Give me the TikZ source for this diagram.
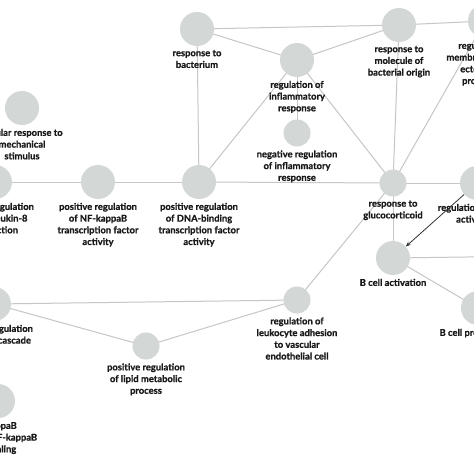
\documentclass[tikz,border=0pt]{standalone}
\usepackage{fontspec}
\setmainfont{Lato}[BoldFeatures={FakeBold=0.8}]
\usetikzlibrary{arrows.meta,backgrounds}
\definecolor{nodegray}{HTML}{D3D7D6}
\definecolor{edgegray}{HTML}{C6C6C6}
\tikzset{
  go/.style={circle, fill=nodegray, draw=none, minimum size=34pt, inner sep=0pt,
    label={[golabel]below:#1}},
  gos/.style={circle, fill=nodegray, draw=none, minimum size=27pt, inner sep=0pt,
    label={[golabel]below:#1}},
  golabel/.style={align=center, font=\bfseries\fontsize{9.4}{11.7}\selectfont, text=black!90,
    inner sep=0pt, yshift=-3.5pt},
  edge/.style={draw=edgegray, line width=1pt},
  arr/.style={draw=black!80, line width=0.8pt, -{Stealth[length=5pt,width=4pt]}}
}
\begin{document}
\begin{tikzpicture}[x=1pt,y=-1pt]
\useasboundingbox (0,0) rectangle (474,474);
% nodes
\node[go={response to\\bacterium}] (bact) at (197,29) {};
\node[go={response to\\molecule of\\bacterial origin}] (mol) at (399,25) {};
\node[go={regulation of\\membrane protein\\ectodomain\\proteolysis}] (memb) at (485,21) {};
\node[go={regulation of\\inflammatory\\response}] (infl) at (297,60) {};
\node[gos={negative regulation\\of inflammatory\\response}] (neg) at (297,133) {};
\node[go={cellular response to\\mechanical\\stimulus}] (mech) at (22,108) {};
\node[go={positive regulation\\of interleukin-8\\production}] (il8) at (-5,182) {};
\node[go={positive regulation\\of NF-kappaB\\transcription factor\\activity}] (nfkb) at (98,182) {};
\node[go={positive regulation\\of DNA-binding\\transcription factor\\activity}] (dna) at (199,182) {};
\node[gos={response to\\glucocorticoid}] (gluc) at (393,183) {};
\node[go={regulation of B cell\\activation}] (regb) at (477,183) {};
\node[go={B cell activation}] (bcell) at (393,258) {};
\node[go={B cell proliferation}] (bprol) at (478,308) {};
\node[gos={regulation of\\leukocyte adhesion\\to vascular\\endothelial cell}] (leuk) at (297,300) {};
\node[gos={positive regulation\\of lipid metabolic\\process}] (lipid) at (146,346) {};
\node[go={positive regulation\\of MAPK cascade}] (mapk) at (-6,304) {};
\node[go={I-kappaB\\kinase/NF-kappaB\\signaling}] (ikb) at (-2,401) {};
\coordinate (offr) at (540,256);
% edges
\begin{scope}[on background layer]
\fill[white] (0,0) rectangle (474,474);
\draw[edge] (bact.center) -- (mol.center);
\draw[edge] (bact.center) -- (infl.center);
\draw[edge] (infl.center) -- (mol.center);
\draw[edge] (mol.center) -- (memb.center);
\draw[edge] (bact.center) -- (dna.center);
\draw[edge] (infl.center) -- (dna.center);
\draw[edge] (infl.center) -- (neg.center);
\draw[edge] (infl.center) -- (gluc.center);
\draw[edge] (mol.center) -- (gluc.center);
\draw[edge] (memb.center) -- (gluc.center);
\draw[edge] (il8.center) -- (nfkb.center);
\draw[edge] (nfkb.center) -- (dna.center);
\draw[edge] (dna.center) -- (gluc.center);
\draw[edge] (gluc.center) -- (regb.center);
\draw[edge] (gluc.center) -- (bcell.center);
\draw[edge] (gluc.center) -- (leuk.center);
\draw[edge] (bcell.center) -- (offr);
\draw[edge] (bcell.center) -- (bprol.center);
\draw[edge] (mapk.center) -- (leuk.center);
\draw[edge] (mapk.center) -- (lipid.center);
\draw[edge] (lipid.center) -- (leuk.center);
\end{scope}
\draw[arr] (regb) -- (bcell);
\end{tikzpicture}
\end{document}
